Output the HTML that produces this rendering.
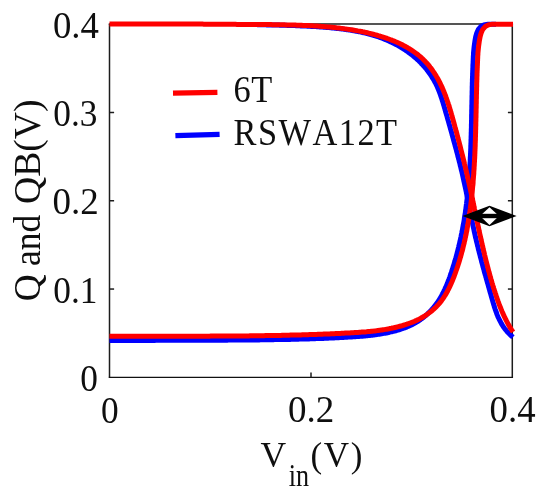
<!DOCTYPE html>
<html><head><meta charset="utf-8"><title>SNM plot</title>
<style>
html,body{margin:0;padding:0;background:#fff;}
body{width:550px;height:497px;overflow:hidden;position:relative;}
svg{position:absolute;left:0;top:0;display:block;}
text{font-family:"Liberation Serif","Times New Roman",serif;fill:#0f0f0f;}
</style></head><body>
<svg width="550" height="497" viewBox="0 0 550 497">
<rect width="550" height="497" fill="#fff"/>
<!-- axes box -->
<g stroke="#1c1c1c" stroke-width="1.5" fill="none">
<line x1="108.75" y1="24.05" x2="513.05" y2="24.05"/>
<line x1="109.5" y1="24.05" x2="109.5" y2="377.4"/>
<line x1="512.3" y1="24.05" x2="512.3" y2="377.4"/>
<line x1="108.75" y1="377.4" x2="513.05" y2="377.4" stroke-width="1.35" stroke="#111"/>
<line x1="311" y1="377.4" x2="311" y2="372.5"/>
<line x1="109.5" y1="112.5" x2="114.1" y2="112.5"/>
<line x1="109.5" y1="200.75" x2="114.1" y2="200.75"/>
<line x1="109.5" y1="289.05" x2="114.1" y2="289.05"/>
<line x1="512.3" y1="112.5" x2="507.9" y2="112.5"/>
<line x1="512.3" y1="200.75" x2="507.9" y2="200.75"/>
<line x1="512.3" y1="289.05" x2="507.9" y2="289.05"/>
</g>
<g fill="none" stroke-width="5" stroke-linejoin="round">
<path stroke="#0000ff" d="M255.0,24.6 L255.9,24.6 L256.8,24.6 L257.7,24.7 L258.6,24.7 L259.5,24.7 L260.5,24.7 L261.4,24.7 L262.3,24.8 L263.2,24.8 L264.1,24.8 L265.1,24.8 L266.0,24.8 L266.9,24.9 L267.8,24.9 L268.7,24.9 L269.7,24.9 L270.6,24.9 L271.5,25.0 L272.5,25.0 L273.4,25.0 L274.3,25.0 L275.3,25.0 L276.2,25.1 L277.1,25.1 L278.1,25.1 L279.0,25.1 L279.9,25.2 L280.9,25.2 L281.8,25.2 L282.8,25.2 L283.7,25.3 L284.6,25.3 L285.6,25.3 L286.5,25.3 L287.5,25.4 L288.4,25.4 L289.4,25.4 L290.3,25.5 L291.2,25.5 L292.2,25.5 L293.1,25.6 L294.1,25.6 L295.0,25.6 L296.0,25.7 L296.9,25.7 L297.9,25.7 L298.8,25.8 L299.8,25.8 L300.7,25.9 L301.7,25.9 L302.6,25.9 L303.6,26.0 L304.5,26.0 L305.5,26.1 L306.4,26.1 L307.4,26.2 L308.3,26.2 L309.3,26.3 L310.2,26.3 L311.2,26.4 L312.1,26.4 L313.1,26.5 L314.0,26.5 L315.0,26.6 L315.9,26.6 L316.9,26.7 L317.8,26.8 L318.8,26.8 L319.7,26.9 L320.7,27.0 L321.6,27.0 L322.6,27.1 L323.5,27.2 L324.5,27.3 L325.4,27.3 L326.4,27.4 L327.3,27.5 L328.3,27.6 L329.2,27.6 L330.2,27.7 L331.1,27.8 L332.0,27.9 L333.0,28.0 L333.9,28.1 L334.9,28.2 L335.8,28.3 L336.7,28.4 L337.7,28.5 L338.6,28.6 L339.6,28.7 L340.5,28.8 L341.4,28.9 L342.4,29.0 L343.3,29.1 L344.2,29.3 L345.2,29.4 L346.1,29.5 L347.0,29.7 L348.0,29.8 L348.9,29.9 L349.8,30.1 L350.7,30.2 L351.7,30.4 L352.6,30.5 L353.5,30.7 L354.4,30.8 L355.3,31.0 L356.3,31.2 L357.2,31.4 L358.1,31.5 L359.0,31.7 L359.9,31.9 L360.8,32.1 L361.7,32.3 L362.6,32.5 L363.5,32.7 L364.4,32.9 L365.3,33.1 L366.3,33.3 L367.2,33.6 L368.0,33.8 L368.9,34.0 L369.8,34.3 L370.7,34.5 L371.6,34.8 L372.5,35.0 L373.4,35.3 L374.3,35.6 L375.2,35.8 L376.0,36.1 L376.9,36.4 L377.8,36.7 L378.7,37.0 L379.6,37.3 L380.4,37.6 L381.3,37.9 L382.2,38.2 L383.0,38.6 L383.9,38.9 L384.7,39.3 L385.6,39.6 L386.5,40.0 L387.3,40.3 L388.2,40.7 L389.0,41.1 L389.9,41.5 L390.7,41.9 L391.6,42.3 L392.4,42.7 L393.2,43.1 L394.1,43.5 L394.9,43.9 L395.7,44.4 L396.5,44.8 L397.4,45.2 L398.2,45.7 L399.0,46.2 L399.8,46.6 L400.6,47.1 L401.4,47.6 L402.2,48.1 L403.0,48.6 L403.8,49.1 L404.6,49.6 L405.4,50.1 L406.1,50.6 L406.9,51.2 L407.7,51.7 L408.4,52.3 L409.2,52.8 L410.0,53.4 L410.7,53.9 L411.4,54.5 L412.2,55.1 L412.9,55.7 L413.6,56.3 L414.3,56.9 L415.1,57.5 L415.8,58.1 L416.5,58.7 L417.2,59.4 L417.9,60.0 L418.5,60.6 L419.2,61.3 L419.9,61.9 L420.5,62.6 L421.2,63.3 L421.8,64.0 L422.5,64.6 L423.1,65.3 L423.7,66.0 L424.3,66.7 L425.0,67.5 L425.6,68.2 L426.2,68.9 L426.7,69.6 L427.3,70.4 L427.9,71.1 L428.4,71.9 L429.0,72.6 L429.5,73.4 L430.1,74.1 L430.6,74.9 L431.1,75.7 L431.6,76.5 L432.1,77.3 L432.6,78.1 L433.1,78.9 L433.6,79.7 L434.0,80.5 L434.5,81.3 L434.9,82.1 L435.4,82.9 L435.8,83.7 L436.2,84.6 L436.6,85.4 L437.0,86.2 L437.4,87.1 L437.7,87.9 L438.1,88.8 L438.4,89.6 L438.8,90.5 L439.1,91.3 L439.5,92.2 L439.8,93.1 L440.1,93.9 L440.4,94.8 L440.7,95.7 L441.0,96.5 L441.3,97.4 L441.6,98.3 L441.9,99.2 L442.2,100.1 L442.4,100.9 L442.7,101.8 L443.0,102.7 L443.3,103.6 L443.5,104.5 L443.8,105.4 L444.1,106.3 L444.3,107.2 L444.6,108.1 L444.9,109.0 L445.1,109.9 L445.4,110.8 L445.6,111.7 L445.9,112.7 L446.2,113.6 L446.4,114.5 L446.7,115.4 L447.0,116.3 L447.2,117.2 L447.5,118.1 L447.7,119.1 L448.0,120.0 L448.3,120.9 L448.5,121.8 L448.8,122.7 L449.0,123.6 L449.3,124.6 L449.6,125.5 L449.8,126.4 L450.1,127.3 L450.3,128.2 L450.6,129.2 L450.9,130.1 L451.1,131.0 L451.4,131.9 L451.6,132.8 L451.9,133.7 L452.1,134.7 L452.4,135.6 L452.6,136.5 L452.9,137.4 L453.1,138.3 L453.4,139.2 L453.6,140.2 L453.9,141.1 L454.1,142.0 L454.4,142.9 L454.6,143.8 L454.9,144.7 L455.1,145.6 L455.4,146.5 L455.6,147.5 L455.9,148.4 L456.1,149.3 L456.4,150.2 L456.6,151.1 L456.8,152.0 L457.1,152.9 L457.3,153.8 L457.6,154.7 L457.8,155.7 L458.0,156.6 L458.3,157.5 L458.5,158.4 L458.7,159.3 L459.0,160.2 L459.2,161.1 L459.4,162.0 L459.7,162.9 L459.9,163.8 L460.1,164.8 L460.3,165.7 L460.6,166.6 L460.8,167.5 L461.0,168.4 L461.2,169.3 L461.4,170.2 L461.7,171.1 L461.9,172.0 L462.1,172.9 L462.3,173.8 L462.5,174.7 L462.7,175.6 L462.9,176.6 L463.1,177.5 L463.3,178.4 L463.5,179.3 L463.7,180.2 L463.9,181.1 L464.1,182.0 L464.3,182.9 L464.5,183.8 L464.7,184.7 L464.9,185.6 L465.1,186.5 L465.3,187.4 L465.5,188.4 L465.7,189.3 L465.9,190.2 L466.1,191.1 L466.3,192.0 L466.4,192.9 L466.6,193.8 L466.8,194.7 L467.0,195.6 L467.2,196.5 L467.4,197.4 L467.5,198.3 L467.7,199.2 L467.9,200.2 L468.1,201.1 L468.3,202.0 L468.4,202.9 L468.6,203.8 L468.8,204.7 L469.0,205.6 L469.2,206.5 L469.3,207.4 L469.5,208.3 L469.7,209.3 L469.9,210.2 L470.1,211.1 L470.2,212.0 L470.4,212.9 L470.6,213.8 L470.8,214.7 L471.0,215.6 L471.1,216.5 L471.3,217.5 L471.5,218.4 L471.7,219.3 L471.9,220.2 L472.1,221.1 L472.3,222.0 L472.4,222.9 L472.6,223.8 L472.8,224.8 L473.0,225.7 L473.2,226.6 L473.4,227.5 L473.6,228.4 L473.8,229.3 L474.0,230.3 L474.2,231.2 L474.4,232.1 L474.6,233.0 L474.8,233.9 L475.0,234.8 L475.2,235.8 L475.4,236.7 L475.6,237.6 L475.9,238.5 L476.1,239.4 L476.3,240.4 L476.5,241.3 L476.7,242.2 L477.0,243.1 L477.2,244.1 L477.4,245.0 L477.6,245.9 L477.9,246.8 L478.1,247.7 L478.3,248.7 L478.5,249.6 L478.8,250.5 L479.0,251.4 L479.2,252.3 L479.5,253.3 L479.7,254.2 L480.0,255.1 L480.2,256.0 L480.4,257.0 L480.7,257.9 L480.9,258.8 L481.2,259.7 L481.4,260.6 L481.6,261.6 L481.9,262.5 L482.1,263.4 L482.4,264.3 L482.6,265.2 L482.9,266.2 L483.1,267.1 L483.4,268.0 L483.6,268.9 L483.9,269.8 L484.1,270.7 L484.4,271.7 L484.6,272.6 L484.9,273.5 L485.1,274.4 L485.4,275.3 L485.7,276.2 L485.9,277.1 L486.2,278.0 L486.4,279.0 L486.7,279.9 L486.9,280.8 L487.2,281.7 L487.4,282.6 L487.7,283.5 L488.0,284.4 L488.2,285.3 L488.5,286.2 L488.7,287.1 L489.0,288.0 L489.2,288.9 L489.5,289.8 L489.7,290.7 L490.0,291.6 L490.2,292.5 L490.5,293.4 L490.8,294.3 L491.0,295.2 L491.3,296.1 L491.5,297.0 L491.8,297.9 L492.0,298.7 L492.3,299.6 L492.5,300.5 L492.8,301.4 L493.0,302.3 L493.3,303.2 L493.5,304.0 L493.8,304.9 L494.1,305.8 L494.3,306.7 L494.6,307.5 L494.9,308.4 L495.2,309.3 L495.5,310.1 L495.8,311.0 L496.1,311.8 L496.4,312.7 L496.7,313.5 L497.0,314.4 L497.3,315.2 L497.7,316.0 L498.0,316.9 L498.4,317.7 L498.8,318.5 L499.2,319.3 L499.6,320.1 L500.0,320.9 L500.4,321.7 L500.8,322.5 L501.3,323.3 L501.7,324.1 L502.2,324.9 L502.7,325.7 L503.2,326.5 L503.7,327.2 L504.3,328.0 L504.8,328.7 L505.4,329.5 L506.0,330.2 L506.6,330.9 L507.2,331.7 L507.9,332.4 L508.5,333.1 L509.2,333.8 L509.9,334.5 L510.7,335.2 L511.4,335.9 L512.2,336.5 L513.0,337.2"/>
<path stroke="#0000ff" d="M109.5,340.4 L110.7,340.4 L111.9,340.4 L113.1,340.4 L114.3,340.4 L115.4,340.4 L116.6,340.4 L117.8,340.4 L119.0,340.4 L120.2,340.4 L121.4,340.4 L122.6,340.4 L123.8,340.4 L124.9,340.4 L126.1,340.4 L127.3,340.4 L128.5,340.4 L129.7,340.4 L130.9,340.4 L132.1,340.4 L133.3,340.4 L134.5,340.4 L135.6,340.4 L136.8,340.4 L138.0,340.4 L139.2,340.4 L140.4,340.4 L141.6,340.4 L142.8,340.4 L144.0,340.4 L145.1,340.4 L146.3,340.4 L147.5,340.4 L148.7,340.4 L149.9,340.4 L151.1,340.4 L152.3,340.4 L153.5,340.4 L154.7,340.4 L155.8,340.3 L157.0,340.3 L158.2,340.3 L159.4,340.3 L160.6,340.3 L161.8,340.3 L163.0,340.3 L164.2,340.3 L165.4,340.3 L166.5,340.3 L167.7,340.3 L168.9,340.3 L170.1,340.3 L171.3,340.3 L172.5,340.3 L173.7,340.3 L174.9,340.3 L176.1,340.3 L177.2,340.3 L178.4,340.3 L179.6,340.3 L180.8,340.3 L182.0,340.3 L183.2,340.3 L184.4,340.3 L185.6,340.3 L186.8,340.3 L187.9,340.3 L189.1,340.3 L190.3,340.3 L191.5,340.3 L192.7,340.3 L193.9,340.3 L195.1,340.3 L196.3,340.3 L197.4,340.3 L198.6,340.3 L199.8,340.3 L201.0,340.3 L202.2,340.3 L203.4,340.3 L204.6,340.3 L205.8,340.3 L207.0,340.3 L208.1,340.3 L209.3,340.2 L210.5,340.2 L211.7,340.2 L212.9,340.2 L214.1,340.2 L215.3,340.2 L216.5,340.2 L217.7,340.2 L218.8,340.2 L220.0,340.2 L221.2,340.2 L222.4,340.2 L223.6,340.2 L224.8,340.2 L226.0,340.2 L227.2,340.2 L228.3,340.1 L229.5,340.1 L230.7,340.1 L231.9,340.1 L233.1,340.1 L234.3,340.1 L235.5,340.1 L236.7,340.1 L237.8,340.1 L239.0,340.1 L240.2,340.1 L241.4,340.0 L242.6,340.0 L243.8,340.0 L245.0,340.0 L246.2,340.0 L247.3,340.0 L248.5,340.0 L249.7,340.0 L250.9,340.0 L252.1,339.9 L253.3,339.9 L254.5,339.9 L255.7,339.9 L256.8,339.9 L258.0,339.9 L259.2,339.9 L260.4,339.8 L261.6,339.8 L262.8,339.8 L264.0,339.8 L265.1,339.8 L266.3,339.8 L267.5,339.8 L268.7,339.7 L269.9,339.7 L271.1,339.7 L272.3,339.7 L273.4,339.7 L274.6,339.6 L275.8,339.6 L277.0,339.6 L278.2,339.6 L279.4,339.6 L280.6,339.5 L281.7,339.5 L282.9,339.5 L284.1,339.5 L285.3,339.5 L286.5,339.4 L287.7,339.4 L288.9,339.4 L290.0,339.4 L291.2,339.3 L292.4,339.3 L293.6,339.3 L294.8,339.2 L296.0,339.2 L297.2,339.2 L298.3,339.2 L299.5,339.1 L300.7,339.1 L301.9,339.1 L303.1,339.0 L304.3,339.0 L305.5,339.0 L306.7,338.9 L307.8,338.9 L309.0,338.9 L310.2,338.8 L311.4,338.8 L312.6,338.7 L313.8,338.7 L315.0,338.7 L316.2,338.6 L317.3,338.6 L318.5,338.5 L319.7,338.5 L320.9,338.4 L322.1,338.4 L323.3,338.4 L324.5,338.3 L325.7,338.3 L326.8,338.2 L328.0,338.2 L329.2,338.1 L330.4,338.1 L331.6,338.0 L332.8,337.9 L334.0,337.9 L335.2,337.8 L336.4,337.8 L337.6,337.7 L338.7,337.7 L339.9,337.6 L341.1,337.5 L342.3,337.5 L343.5,337.4 L344.7,337.3 L345.9,337.3 L347.1,337.2 L348.3,337.1 L349.5,337.1 L350.7,337.0 L351.9,336.9 L353.0,336.8 L354.2,336.8 L355.4,336.7 L356.6,336.6 L357.8,336.5 L359.0,336.4 L360.2,336.3 L361.4,336.3 L362.6,336.2 L363.8,336.1 L365.0,335.9 L366.2,335.8 L367.3,335.7 L368.5,335.6 L369.7,335.5 L370.9,335.3 L372.1,335.2 L373.3,335.0 L374.5,334.9 L375.7,334.7 L376.9,334.6 L378.0,334.4 L379.2,334.2 L380.4,334.0 L381.6,333.8 L382.8,333.6 L383.9,333.4 L385.1,333.2 L386.3,333.0 L387.5,332.7 L388.7,332.5 L389.8,332.2 L391.0,331.9 L392.2,331.7 L393.3,331.4 L394.5,331.1 L395.7,330.8 L396.8,330.4 L398.0,330.1 L399.1,329.8 L400.3,329.4 L401.4,329.0 L402.5,328.6 L403.7,328.2 L404.8,327.8 L405.9,327.4 L407.0,326.9 L408.1,326.5 L409.2,326.0 L410.3,325.5 L411.4,325.0 L412.4,324.5 L413.5,323.9 L414.5,323.3 L415.5,322.8 L416.5,322.2 L417.5,321.6 L418.5,320.9 L419.5,320.3 L420.5,319.6 L421.4,318.9 L422.4,318.2 L423.3,317.5 L424.2,316.8 L425.1,316.0 L426.0,315.3 L426.9,314.5 L427.7,313.7 L428.6,312.9 L429.4,312.1 L430.2,311.2 L431.0,310.4 L431.8,309.5 L432.6,308.6 L433.4,307.8 L434.1,306.9 L434.8,305.9 L435.5,305.0 L436.2,304.1 L436.9,303.1 L437.6,302.2 L438.2,301.2 L438.9,300.3 L439.5,299.3 L440.1,298.3 L440.7,297.3 L441.3,296.3 L441.8,295.3 L442.4,294.2 L442.9,293.2 L443.4,292.1 L443.9,291.1 L444.4,290.0 L444.9,289.0 L445.4,287.9 L445.9,286.8 L446.4,285.8 L446.8,284.7 L447.3,283.6 L447.7,282.5 L448.1,281.4 L448.5,280.3 L449.0,279.2 L449.4,278.1 L449.8,277.0 L450.2,275.8 L450.6,274.7 L450.9,273.6 L451.3,272.5 L451.7,271.3 L452.1,270.2 L452.4,269.1 L452.8,268.0 L453.1,266.8 L453.5,265.7 L453.9,264.6 L454.2,263.4 L454.5,262.3 L454.9,261.1 L455.2,260.0 L455.5,258.9 L455.9,257.7 L456.2,256.6 L456.5,255.4 L456.8,254.3 L457.1,253.1 L457.4,252.0 L457.7,250.8 L458.0,249.6 L458.3,248.5 L458.6,247.3 L458.8,246.2 L459.1,245.0 L459.4,243.8 L459.7,242.7 L459.9,241.5 L460.2,240.3 L460.5,239.2 L460.7,238.0 L461.0,236.8 L461.2,235.7 L461.4,234.5 L461.7,233.3 L461.9,232.2 L462.1,231.0 L462.4,229.8 L462.6,228.6 L462.8,227.5 L463.0,226.3 L463.2,225.1 L463.5,223.9 L463.7,222.8 L463.9,221.6 L464.1,220.4 L464.3,219.2 L464.4,218.0 L464.6,216.9 L464.8,215.7 L465.0,214.5 L465.2,213.3 L465.4,212.1 L465.5,210.9 L465.7,209.8 L465.9,208.6 L466.0,207.4 L466.2,206.2 L466.3,205.0 L466.5,203.8 L466.6,202.6 L466.8,201.5 L466.9,200.3 L467.1,199.1 L467.2,197.9 L467.3,196.7 L467.5,195.5 L467.6,194.4 L467.7,193.2 L467.8,192.0 L468.0,190.8 L468.1,189.6 L468.2,188.4 L468.3,187.2 L468.4,186.1 L468.5,184.9 L468.6,183.7 L468.7,182.5 L468.8,181.3 L468.9,180.1 L469.0,178.9 L469.1,177.8 L469.2,176.6 L469.3,175.4 L469.4,174.2 L469.5,173.0 L469.5,171.8 L469.6,170.7 L469.7,169.5 L469.8,168.3 L469.8,167.1 L469.9,165.9 L470.0,164.7 L470.0,163.5 L470.1,162.4 L470.2,161.2 L470.2,160.0 L470.3,158.8 L470.3,157.6 L470.4,156.4 L470.5,155.2 L470.5,154.1 L470.6,152.9 L470.6,151.7 L470.7,150.5 L470.7,149.3 L470.8,148.1 L470.8,147.0 L470.8,145.8 L470.9,144.6 L470.9,143.4 L471.0,142.2 L471.0,141.0 L471.0,139.8 L471.1,138.7 L471.1,137.5 L471.1,136.3 L471.2,135.1 L471.2,133.9 L471.2,132.7 L471.3,131.5 L471.3,130.4 L471.3,129.2 L471.4,128.0 L471.4,126.8 L471.4,125.6 L471.4,124.4 L471.5,123.2 L471.5,122.1 L471.5,120.9 L471.6,119.7 L471.6,118.5 L471.6,117.3 L471.6,116.1 L471.6,114.9 L471.7,113.8 L471.7,112.6 L471.7,111.4 L471.7,110.2 L471.8,109.0 L471.8,107.8 L471.8,106.6 L471.8,105.5 L471.9,104.3 L471.9,103.1 L471.9,101.9 L471.9,100.7 L472.0,99.5 L472.0,98.3 L472.0,97.1 L472.0,96.0 L472.1,94.8 L472.1,93.6 L472.1,92.4 L472.1,91.2 L472.2,90.0 L472.2,88.8 L472.2,87.7 L472.2,86.5 L472.3,85.3 L472.3,84.1 L472.3,82.9 L472.4,81.7 L472.4,80.5 L472.4,79.3 L472.5,78.2 L472.5,77.0 L472.6,75.8 L472.6,74.6 L472.6,73.4 L472.7,72.2 L472.7,71.0 L472.8,69.8 L472.8,68.6 L472.9,67.5 L472.9,66.3 L472.9,65.1 L473.0,63.9 L473.1,62.7 L473.1,61.5 L473.2,60.3 L473.2,59.1 L473.3,57.9 L473.3,56.8 L473.4,55.6 L473.5,54.4 L473.5,53.2 C474.8,38 476.1,24.3 487.6,24.3 L496,24.3"/>
<path stroke="#ff0000" d="M109.5,24.0 L110.7,24.0 L112.0,24.0 L113.2,24.0 L114.4,24.0 L115.6,24.0 L116.8,24.0 L118.1,24.0 L119.3,24.0 L120.5,24.0 L121.7,24.0 L123.0,24.0 L124.2,24.0 L125.4,24.0 L126.6,24.0 L127.9,24.0 L129.1,24.0 L130.3,24.0 L131.5,24.0 L132.8,24.0 L134.0,24.0 L135.2,24.0 L136.4,24.0 L137.7,24.0 L138.9,24.0 L140.1,24.0 L141.3,24.0 L142.6,24.0 L143.8,24.0 L145.0,24.0 L146.2,24.0 L147.5,24.0 L148.7,24.0 L149.9,24.0 L151.1,24.0 L152.4,24.0 L153.6,24.0 L154.8,24.0 L156.0,24.0 L157.3,24.0 L158.5,24.0 L159.7,24.0 L160.9,24.0 L162.2,24.0 L163.4,24.0 L164.6,24.0 L165.8,24.0 L167.1,24.0 L168.3,24.0 L169.5,24.0 L170.7,24.0 L172.0,24.0 L173.2,24.0 L174.4,24.0 L175.6,24.0 L176.9,24.0 L178.1,24.0 L179.3,24.1 L180.5,24.1 L181.7,24.1 L183.0,24.1 L184.2,24.1 L185.4,24.1 L186.6,24.1 L187.9,24.1 L189.1,24.1 L190.3,24.1 L191.5,24.1 L192.8,24.1 L194.0,24.1 L195.2,24.1 L196.4,24.1 L197.7,24.1 L198.9,24.1 L200.1,24.1 L201.3,24.1 L202.6,24.1 L203.8,24.2 L205.0,24.2 L206.2,24.2 L207.5,24.2 L208.7,24.2 L209.9,24.2 L211.1,24.2 L212.4,24.2 L213.6,24.2 L214.8,24.2 L216.0,24.2 L217.3,24.2 L218.5,24.2 L219.7,24.2 L220.9,24.2 L222.2,24.3 L223.4,24.3 L224.6,24.3 L225.8,24.3 L227.1,24.3 L228.3,24.3 L229.5,24.3 L230.7,24.3 L232.0,24.3 L233.2,24.3 L234.4,24.3 L235.6,24.3 L236.9,24.4 L238.1,24.4 L239.3,24.4 L240.5,24.4 L241.8,24.4 L243.0,24.4 L244.2,24.4 L245.4,24.4 L246.6,24.4 L247.9,24.4 L249.1,24.4 L250.3,24.5 L251.5,24.5 L252.8,24.5 L254.0,24.5 L255.2,24.5 L256.4,24.5 L257.7,24.5 L258.9,24.5 L260.1,24.5 L261.3,24.6 L262.6,24.6 L263.8,24.6 L265.0,24.6 L266.2,24.6 L267.5,24.6 L268.7,24.6 L269.9,24.6 L271.1,24.6 L272.4,24.7 L273.6,24.7 L274.8,24.7 L276.0,24.7 L277.3,24.7 L278.5,24.7 L279.7,24.8 L280.9,24.8 L282.1,24.8 L283.4,24.8 L284.6,24.8 L285.8,24.9 L287.0,24.9 L288.3,24.9 L289.5,24.9 L290.7,25.0 L291.9,25.0 L293.2,25.0 L294.4,25.1 L295.6,25.1 L296.8,25.2 L298.1,25.2 L299.3,25.2 L300.5,25.3 L301.7,25.3 L302.9,25.4 L304.2,25.4 L305.4,25.5 L306.6,25.5 L307.8,25.6 L309.0,25.6 L310.3,25.7 L311.5,25.8 L312.7,25.8 L313.9,25.9 L315.2,26.0 L316.4,26.1 L317.6,26.1 L318.8,26.2 L320.0,26.3 L321.3,26.4 L322.5,26.5 L323.7,26.6 L324.9,26.7 L326.1,26.8 L327.4,26.9 L328.6,27.0 L329.8,27.1 L331.0,27.2 L332.2,27.3 L333.4,27.5 L334.7,27.6 L335.9,27.7 L337.1,27.9 L338.3,28.0 L339.5,28.1 L340.8,28.3 L342.0,28.4 L343.2,28.6 L344.4,28.8 L345.6,28.9 L346.8,29.1 L348.1,29.3 L349.3,29.4 L350.5,29.6 L351.7,29.8 L352.9,30.0 L354.1,30.2 L355.3,30.4 L356.5,30.6 L357.8,30.9 L359.0,31.1 L360.2,31.3 L361.4,31.5 L362.6,31.8 L363.8,32.0 L365.0,32.3 L366.2,32.5 L367.4,32.8 L368.6,33.1 L369.8,33.4 L371.0,33.7 L372.2,34.0 L373.4,34.3 L374.6,34.6 L375.8,34.9 L377.0,35.2 L378.2,35.6 L379.4,35.9 L380.6,36.3 L381.7,36.7 L382.9,37.0 L384.1,37.4 L385.3,37.8 L386.5,38.2 L387.6,38.6 L388.8,39.0 L390.0,39.5 L391.1,39.9 L392.3,40.4 L393.5,40.8 L394.6,41.3 L395.7,41.8 L396.9,42.3 L398.0,42.8 L399.1,43.3 L400.2,43.8 L401.4,44.4 L402.5,44.9 L403.5,45.5 L404.6,46.1 L405.7,46.6 L406.8,47.2 L407.8,47.8 L408.9,48.5 L409.9,49.1 L410.9,49.7 L411.9,50.4 L413.0,51.1 L413.9,51.8 L414.9,52.5 L415.9,53.2 L416.8,53.9 L417.8,54.6 L418.7,55.4 L419.6,56.1 L420.5,56.9 L421.4,57.7 L422.3,58.5 L423.1,59.3 L424.0,60.2 L424.8,61.0 L425.6,61.9 L426.4,62.8 L427.2,63.6 L428.0,64.5 L428.8,65.4 L429.5,66.4 L430.2,67.3 L431.0,68.2 L431.7,69.2 L432.4,70.2 L433.0,71.1 L433.7,72.1 L434.4,73.1 L435.0,74.1 L435.7,75.1 L436.3,76.2 L436.9,77.2 L437.5,78.2 L438.1,79.3 L438.6,80.4 L439.2,81.4 L439.8,82.5 L440.3,83.6 L440.8,84.7 L441.3,85.8 L441.9,86.9 L442.4,88.0 L442.8,89.1 L443.3,90.2 L443.8,91.3 L444.2,92.5 L444.7,93.6 L445.1,94.8 L445.6,95.9 L446.0,97.1 L446.4,98.2 L446.8,99.4 L447.2,100.5 L447.6,101.7 L448.0,102.9 L448.4,104.1 L448.8,105.2 L449.1,106.4 L449.5,107.6 L449.9,108.8 L450.2,110.0 L450.6,111.2 L450.9,112.4 L451.3,113.6 L451.6,114.7 L452.0,115.9 L452.3,117.1 L452.6,118.3 L453.0,119.5 L453.3,120.7 L453.6,121.9 L454.0,123.1 L454.3,124.3 L454.6,125.5 L454.9,126.7 L455.3,127.9 L455.6,129.1 L455.9,130.3 L456.2,131.4 L456.6,132.6 L456.9,133.8 L457.2,135.0 L457.5,136.2 L457.8,137.4 L458.1,138.6 L458.5,139.8 L458.8,141.0 L459.1,142.1 L459.4,143.3 L459.7,144.5 L460.0,145.7 L460.3,146.9 L460.6,148.1 L460.9,149.3 L461.2,150.5 L461.5,151.6 L461.8,152.8 L462.1,154.0 L462.4,155.2 L462.7,156.4 L463.0,157.6 L463.3,158.8 L463.6,160.0 L463.9,161.2 L464.2,162.3 L464.4,163.5 L464.7,164.7 L465.0,165.9 L465.3,167.1 L465.6,168.3 L465.9,169.5 L466.1,170.7 L466.4,171.9 L466.7,173.1 L467.0,174.3 L467.3,175.4 L467.5,176.6 L467.8,177.8 L468.1,179.0 L468.3,180.2 L468.6,181.4 L468.9,182.6 L469.1,183.8 L469.4,185.0 L469.7,186.2 L469.9,187.4 L470.2,188.6 L470.5,189.8 L470.7,191.0 L471.0,192.2 L471.2,193.4 L471.5,194.6 L471.7,195.8 L472.0,197.0 L472.3,198.2 L472.5,199.4 L472.8,200.6 L473.0,201.8 L473.3,203.0 L473.5,204.2 L473.8,205.4 L474.0,206.6 L474.3,207.8 L474.5,209.0 L474.8,210.2 L475.1,211.4 L475.3,212.6 L475.6,213.8 L475.8,215.0 L476.1,216.3 L476.3,217.5 L476.6,218.7 L476.8,219.9 L477.1,221.1 L477.3,222.3 L477.6,223.5 L477.8,224.7 L478.1,225.9 L478.4,227.1 L478.6,228.3 L478.9,229.5 L479.1,230.7 L479.4,231.9 L479.6,233.1 L479.9,234.3 L480.2,235.5 L480.4,236.7 L480.7,237.9 L481.0,239.0 L481.2,240.2 L481.5,241.4 L481.8,242.6 L482.0,243.8 L482.3,245.0 L482.6,246.2 L482.9,247.4 L483.1,248.6 L483.4,249.8 L483.7,251.0 L484.0,252.2 L484.3,253.4 L484.5,254.5 L484.8,255.7 L485.1,256.9 L485.4,258.1 L485.7,259.3 L486.0,260.5 L486.3,261.6 L486.6,262.8 L486.9,264.0 L487.2,265.2 L487.5,266.4 L487.8,267.5 L488.1,268.7 L488.4,269.9 L488.7,271.1 L489.1,272.2 L489.4,273.4 L489.7,274.6 L490.0,275.7 L490.3,276.9 L490.7,278.1 L491.0,279.2 L491.4,280.4 L491.7,281.6 L492.0,282.7 L492.4,283.9 L492.7,285.0 L493.1,286.2 L493.4,287.3 L493.8,288.5 L494.2,289.6 L494.5,290.8 L494.9,291.9 L495.3,293.1 L495.7,294.2 L496.0,295.4 L496.4,296.5 L496.8,297.7 L497.2,298.8 L497.6,299.9 L498.0,301.1 L498.4,302.2 L498.8,303.3 L499.2,304.5 L499.7,305.6 L500.1,306.7 L500.5,307.8 L501.0,308.9 L501.5,310.1 L501.9,311.2 L502.4,312.3 L502.9,313.4 L503.4,314.5 L503.9,315.6 L504.4,316.7 L504.9,317.8 L505.5,318.9 L506.0,320.0 L506.6,321.1 L507.2,322.2 L507.7,323.3 L508.3,324.4 L509.0,325.5 L509.6,326.6 L510.2,327.7 L510.9,328.8 L511.6,329.9 L512.3,330.9 L513.0,332.0"/>
<path stroke="#ff0000" d="M109.5,336.3 L110.7,336.3 L111.9,336.3 L113.1,336.3 L114.3,336.3 L115.5,336.3 L116.6,336.3 L117.8,336.3 L119.0,336.3 L120.2,336.3 L121.4,336.3 L122.6,336.3 L123.8,336.3 L125.0,336.3 L126.2,336.3 L127.4,336.3 L128.5,336.3 L129.7,336.3 L130.9,336.3 L132.1,336.3 L133.3,336.3 L134.5,336.3 L135.7,336.3 L136.9,336.3 L138.1,336.3 L139.3,336.3 L140.5,336.3 L141.6,336.3 L142.8,336.3 L144.0,336.3 L145.2,336.3 L146.4,336.3 L147.6,336.2 L148.8,336.2 L150.0,336.2 L151.2,336.2 L152.4,336.2 L153.5,336.2 L154.7,336.2 L155.9,336.2 L157.1,336.2 L158.3,336.2 L159.5,336.2 L160.7,336.2 L161.9,336.2 L163.1,336.2 L164.3,336.2 L165.5,336.2 L166.6,336.2 L167.8,336.2 L169.0,336.2 L170.2,336.2 L171.4,336.2 L172.6,336.2 L173.8,336.2 L175.0,336.2 L176.2,336.2 L177.4,336.2 L178.5,336.2 L179.7,336.2 L180.9,336.2 L182.1,336.2 L183.3,336.2 L184.5,336.2 L185.7,336.2 L186.9,336.2 L188.1,336.2 L189.3,336.2 L190.5,336.2 L191.6,336.2 L192.8,336.2 L194.0,336.2 L195.2,336.2 L196.4,336.2 L197.6,336.2 L198.8,336.2 L200.0,336.2 L201.2,336.2 L202.4,336.2 L203.6,336.2 L204.7,336.2 L205.9,336.2 L207.1,336.2 L208.3,336.2 L209.5,336.2 L210.7,336.1 L211.9,336.1 L213.1,336.1 L214.3,336.1 L215.5,336.1 L216.6,336.1 L217.8,336.1 L219.0,336.1 L220.2,336.1 L221.4,336.1 L222.6,336.1 L223.8,336.1 L225.0,336.1 L226.2,336.1 L227.4,336.1 L228.5,336.0 L229.7,336.0 L230.9,336.0 L232.1,336.0 L233.3,336.0 L234.5,336.0 L235.7,336.0 L236.9,336.0 L238.1,336.0 L239.3,336.0 L240.5,335.9 L241.6,335.9 L242.8,335.9 L244.0,335.9 L245.2,335.9 L246.4,335.9 L247.6,335.9 L248.8,335.9 L250.0,335.8 L251.2,335.8 L252.4,335.8 L253.5,335.8 L254.7,335.8 L255.9,335.8 L257.1,335.8 L258.3,335.7 L259.5,335.7 L260.7,335.7 L261.9,335.7 L263.1,335.7 L264.2,335.7 L265.4,335.6 L266.6,335.6 L267.8,335.6 L269.0,335.6 L270.2,335.6 L271.4,335.5 L272.6,335.5 L273.8,335.5 L275.0,335.5 L276.1,335.5 L277.3,335.4 L278.5,335.4 L279.7,335.4 L280.9,335.4 L282.1,335.3 L283.3,335.3 L284.5,335.3 L285.7,335.3 L286.8,335.2 L288.0,335.2 L289.2,335.2 L290.4,335.1 L291.6,335.1 L292.8,335.1 L294.0,335.1 L295.2,335.0 L296.4,335.0 L297.5,335.0 L298.7,334.9 L299.9,334.9 L301.1,334.9 L302.3,334.8 L303.5,334.8 L304.7,334.8 L305.9,334.7 L307.1,334.7 L308.2,334.7 L309.4,334.6 L310.6,334.6 L311.8,334.5 L313.0,334.5 L314.2,334.5 L315.4,334.4 L316.6,334.4 L317.8,334.3 L318.9,334.3 L320.1,334.2 L321.3,334.2 L322.5,334.2 L323.7,334.1 L324.9,334.1 L326.1,334.0 L327.3,334.0 L328.5,333.9 L329.6,333.9 L330.8,333.8 L332.0,333.8 L333.2,333.7 L334.4,333.7 L335.6,333.6 L336.8,333.5 L338.0,333.5 L339.1,333.4 L340.3,333.4 L341.5,333.3 L342.7,333.3 L343.9,333.2 L345.1,333.1 L346.3,333.1 L347.5,333.0 L348.6,332.9 L349.8,332.9 L351.0,332.8 L352.2,332.7 L353.4,332.7 L354.6,332.6 L355.8,332.5 L357.0,332.5 L358.1,332.4 L359.3,332.3 L360.5,332.2 L361.7,332.1 L362.9,332.0 L364.1,332.0 L365.3,331.9 L366.5,331.8 L367.6,331.6 L368.8,331.5 L370.0,331.4 L371.2,331.3 L372.4,331.2 L373.6,331.1 L374.8,330.9 L376.0,330.8 L377.2,330.6 L378.3,330.5 L379.5,330.3 L380.7,330.1 L381.9,330.0 L383.1,329.8 L384.3,329.6 L385.5,329.4 L386.7,329.2 L387.9,329.0 L389.0,328.8 L390.2,328.5 L391.4,328.3 L392.6,328.0 L393.8,327.8 L395.0,327.5 L396.2,327.2 L397.4,326.9 L398.5,326.6 L399.7,326.3 L400.9,326.0 L402.1,325.7 L403.2,325.3 L404.4,325.0 L405.5,324.6 L406.7,324.2 L407.8,323.8 L409.0,323.4 L410.1,323.0 L411.2,322.6 L412.4,322.2 L413.5,321.7 L414.6,321.2 L415.6,320.7 L416.7,320.3 L417.8,319.7 L418.9,319.2 L419.9,318.7 L421.0,318.1 L422.0,317.6 L423.0,317.0 L424.0,316.4 L425.0,315.8 L426.0,315.1 L426.9,314.5 L427.9,313.8 L428.8,313.1 L429.7,312.4 L430.7,311.7 L431.6,311.0 L432.4,310.3 L433.3,309.5 L434.2,308.8 L435.0,308.0 L435.8,307.2 L436.6,306.4 L437.4,305.5 L438.2,304.7 L439.0,303.8 L439.7,303.0 L440.4,302.1 L441.1,301.2 L441.8,300.2 L442.5,299.3 L443.2,298.3 L443.8,297.4 L444.4,296.4 L445.1,295.4 L445.7,294.4 L446.3,293.4 L446.8,292.4 L447.4,291.4 L447.9,290.3 L448.5,289.3 L449.0,288.2 L449.5,287.1 L450.0,286.1 L450.5,285.0 L451.0,283.9 L451.5,282.8 L452.0,281.7 L452.4,280.6 L452.9,279.5 L453.3,278.4 L453.8,277.3 L454.2,276.1 L454.6,275.0 L455.0,273.9 L455.4,272.8 L455.8,271.6 L456.2,270.5 L456.6,269.4 L457.0,268.2 L457.4,267.1 L457.8,266.0 L458.1,264.8 L458.5,263.7 L458.9,262.5 L459.2,261.4 L459.6,260.2 L459.9,259.1 L460.2,257.9 L460.6,256.8 L460.9,255.6 L461.2,254.5 L461.5,253.3 L461.8,252.2 L462.2,251.0 L462.5,249.9 L462.8,248.7 L463.0,247.6 L463.3,246.4 L463.6,245.2 L463.9,244.1 L464.2,242.9 L464.4,241.7 L464.7,240.6 L465.0,239.4 L465.2,238.2 L465.5,237.1 L465.7,235.9 L466.0,234.7 L466.2,233.6 L466.4,232.4 L466.7,231.2 L466.9,230.1 L467.1,228.9 L467.3,227.7 L467.5,226.5 L467.7,225.4 L467.9,224.2 L468.1,223.0 L468.3,221.8 L468.5,220.6 L468.7,219.5 L468.9,218.3 L469.1,217.1 L469.3,215.9 L469.5,214.7 L469.6,213.6 L469.8,212.4 L470.0,211.2 L470.1,210.0 L470.3,208.8 L470.4,207.6 L470.6,206.5 L470.7,205.3 L470.9,204.1 L471.0,202.9 L471.2,201.7 L471.3,200.5 L471.4,199.4 L471.6,198.2 L471.7,197.0 L471.8,195.8 L472.0,194.6 L472.1,193.4 L472.2,192.3 L472.3,191.1 L472.4,189.9 L472.5,188.7 L472.6,187.5 L472.7,186.3 L472.9,185.1 L473.0,184.0 L473.1,182.8 L473.1,181.6 L473.2,180.4 L473.3,179.2 L473.4,178.0 L473.5,176.8 L473.6,175.6 L473.7,174.5 L473.8,173.3 L473.8,172.1 L473.9,170.9 L474.0,169.7 L474.1,168.5 L474.1,167.3 L474.2,166.2 L474.3,165.0 L474.3,163.8 L474.4,162.6 L474.5,161.4 L474.5,160.2 L474.6,159.0 L474.7,157.8 L474.7,156.7 L474.8,155.5 L474.8,154.3 L474.9,153.1 L474.9,151.9 L475.0,150.7 L475.0,149.5 L475.1,148.3 L475.1,147.2 L475.2,146.0 L475.2,144.8 L475.2,143.6 L475.3,142.4 L475.3,141.2 L475.4,140.0 L475.4,138.8 L475.4,137.7 L475.5,136.5 L475.5,135.3 L475.5,134.1 L475.6,132.9 L475.6,131.7 L475.6,130.5 L475.7,129.3 L475.7,128.1 L475.7,127.0 L475.8,125.8 L475.8,124.6 L475.8,123.4 L475.8,122.2 L475.9,121.0 L475.9,119.8 L475.9,118.6 L476.0,117.4 L476.0,116.3 L476.0,115.1 L476.0,113.9 L476.1,112.7 L476.1,111.5 L476.1,110.3 L476.1,109.1 L476.2,107.9 L476.2,106.7 L476.2,105.6 L476.2,104.4 L476.3,103.2 L476.3,102.0 L476.3,100.8 L476.3,99.6 L476.4,98.4 L476.4,97.2 L476.4,96.0 L476.4,94.8 L476.5,93.7 L476.5,92.5 L476.5,91.3 L476.6,90.1 L476.6,88.9 L476.6,87.7 L476.7,86.5 L476.7,85.3 L476.7,84.1 L476.7,82.9 L476.8,81.8 L476.8,80.6 L476.9,79.4 L476.9,78.2 L476.9,77.0 L477.0,75.8 L477.0,74.6 L477.0,73.4 L477.1,72.2 L477.1,71.0 L477.2,69.9 L477.2,68.7 L477.3,67.5 L477.3,66.3 L477.4,65.1 L477.4,63.9 L477.5,62.7 L477.5,61.5 L477.6,60.3 L477.6,59.1 L477.7,58.0 L477.7,56.8 L477.8,55.6 L477.9,54.4 L477.9,53.2 C479.2,38 480.5,24.3 492,24.3 L513,24.3"/>
</g>
<!-- legend -->
<line x1="173" y1="93.2" x2="217.4" y2="92.4" stroke="#ff0000" stroke-width="5.3"/>
<line x1="175.4" y1="135.7" x2="219.6" y2="134.3" stroke="#0000ff" stroke-width="5.3"/>
<text transform="translate(233.6,102.2) scale(0.93,1)" font-size="37" style="font-kerning:none" letter-spacing="0.6">6T</text>
<text transform="translate(233.6,144.8) scale(0.93,1)" font-size="37" style="font-kerning:none" letter-spacing="1.55">RSWA12T</text>
<!-- arrow -->
<polygon points="462.4,216 489.5,205.7 516.6,216 489.5,226.2" fill="#000"/>
<polygon points="480,216 489.5,207.2 499,216 489.5,225" fill="#fff"/>
<rect x="476" y="213.8" width="28" height="4.4" fill="#000"/>
<!-- tick labels -->
<g font-size="37" text-anchor="end">
<text transform="translate(98.9,37.8) scale(0.995,1)">0.4</text>
<text transform="translate(97.4,126) scale(0.955,1)">0.3</text>
<text transform="translate(98.8,214.3) scale(1.0,1)">0.2</text>
<text transform="translate(97.4,302.5) scale(0.955,1)">0.1</text>
<text transform="translate(97.8,390.7) scale(0.955,1)">0</text>
</g>
<g font-size="37" text-anchor="middle">
<text transform="translate(109.7,422.5) scale(0.955,1)">0</text>
<text transform="translate(311.1,422.4) scale(1.0,1)">0.2</text>
<text transform="translate(512.6,422.3) scale(0.995,1)">0.4</text>
</g>
<text font-size="35.5" x="260.6" y="467.4">V</text>
<text font-size="30.5" x="288.8" y="485.6" textLength="20.3" lengthAdjust="spacingAndGlyphs">in</text>
<text font-size="35" x="310.6" y="467.2" letter-spacing="1.6">(V)</text>
<g font-size="37.3">
<text transform="translate(40.3,301.2) rotate(-90)">Q</text>
<text transform="translate(40.3,266) rotate(-90) scale(0.95,1)">and</text>
<text transform="translate(40.3,204) rotate(-90) scale(1.01,1)">QB(V)</text>
</g>
</svg>
</body></html>
